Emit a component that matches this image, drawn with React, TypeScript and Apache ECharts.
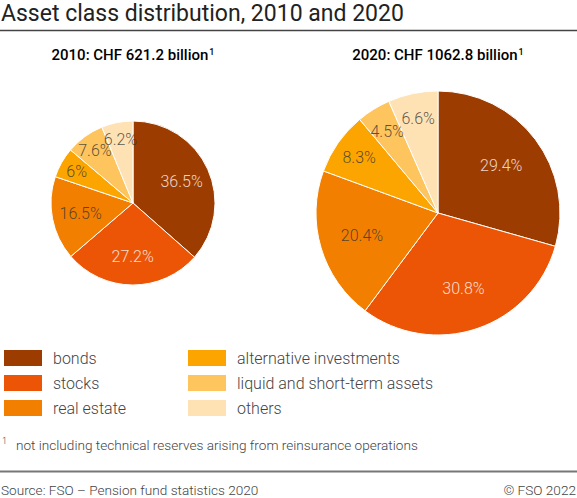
import { useEffect, useRef } from 'react';
import * as echarts from 'echarts';

const categories = [
  'bonds',
  'stocks',
  'real estate',
  'alternative investments',
  'liquid and short-term assets',
  'others',
];
const sliceColors = ['#9d3c00', '#ec5505', '#f27f00', '#fca500', '#fec45e', '#fee2b3'];
const labelColors = ['#ffffff', '#ffffff', '#333333', '#333333', '#333333', '#333333'];
const values2010 = [36.5, 27.2, 16.5, 6, 7.6, 6.2];
const values2020 = [29.4, 30.8, 20.4, 8.3, 4.5, 6.6];

const FONT = 'Roboto, "Noto Sans", sans-serif';

function mainPie(values: number[], center: number[], radius: number) {
  return {
    type: 'pie',
    center,
    radius: [0, radius],
    startAngle: 90,
    clockwise: true,
    silent: true,
    label: { show: false },
    labelLine: { show: false },
    itemStyle: { borderColor: '#ffffff', borderWidth: 1 },
    data: categories.map((name, i) => ({
      name,
      value: values[i],
      itemStyle: { color: sliceColors[i] },
    })),
  };
}

// percentage labels, placed on a polar grid laid over each pie
function labelSeries(values: number[], polarIndex: number) {
  const total = values.reduce((a, b) => a + b, 0);
  let acc = 0;
  const data = values.map((v, i) => {
    const mid = acc + v / 2;
    acc += v;
    const r = v >= 10 ? 0.65 : 0.79;
    return {
      value: [r, (mid / total) * 100, v],
      label: { color: labelColors[i] },
    };
  });
  return {
    type: 'scatter',
    coordinateSystem: 'polar',
    polarIndex,
    silent: true,
    symbolSize: 1,
    itemStyle: { color: 'rgba(0,0,0,0)' },
    label: {
      show: true,
      position: 'inside',
      formatter: (p: any) => `${p.value[2]}%`,
      fontFamily: FONT,
      fontWeight: 300,
      fontSize: 16,
      textBorderWidth: 0,
      textShadowBlur: 0,
    },
    data,
  };
}

function legendBlock(left: number, idx: number[]) {
  return {
    orient: 'vertical',
    left,
    top: 348,
    padding: 0,
    itemWidth: 40,
    itemHeight: 18,
    itemGap: 5,
    selectedMode: false,
    icon: 'rect',
    textStyle: {
      fontFamily: FONT,
      fontWeight: 300,
      fontSize: 16,
      color: '#444444',
      padding: [0, 0, 0, 5],
    },
    data: idx.map((i) => ({ name: categories[i], itemStyle: { color: sliceColors[i] } })),
  };
}

export default function App() {
  const chartRef = useRef<HTMLDivElement>(null);

  useEffect(() => {
    document.body.style.margin = '0';
    if (!chartRef.current) return;

    const chart = echarts.init(chartRef.current, undefined, { renderer: 'svg' });

    const c2010 = [133, 203];
    const c2020 = [438, 213];
    const hiddenAngle = { type: 'value', min: 0, max: 100, startAngle: 90, clockwise: true, show: false };
    const hiddenRadius = { type: 'value', min: 0, max: 1, show: false };

    const option = {
      animation: false,
      polar: [
        { center: c2010, radius: 82 },
        { center: c2020, radius: 122 },
      ],
      angleAxis: [
        { ...hiddenAngle, polarIndex: 0 },
        { ...hiddenAngle, polarIndex: 1 },
      ],
      radiusAxis: [
        { ...hiddenRadius, polarIndex: 0 },
        { ...hiddenRadius, polarIndex: 1 },
      ],
      legend: [legendBlock(2, [0, 1, 2]), legendBlock(186, [3, 4, 5])],
      series: [
        mainPie(values2010, c2010, 82),
        mainPie(values2020, c2020, 122),
        labelSeries(values2010, 0),
        labelSeries(values2020, 1),
      ],
      graphic: [
        {
          type: 'text',
          x: 1,
          y: 13,
          style: {
            text: 'Asset class distribution, 2010 and 2020',
            fontFamily: FONT,
            fontSize: 23,
            fill: '#222222',
            verticalAlign: 'middle',
          },
        },
        {
          type: 'line',
          shape: { x1: 0, y1: 30.5, x2: 577, y2: 30.5 },
          style: { stroke: '#444444', lineWidth: 1.5 },
        },
        {
          type: 'text',
          x: 133,
          y: 55,
          style: {
            text: '{m|2010: CHF 621.2 billion}{s|1}',
            align: 'center',
            verticalAlign: 'middle',
            rich: {
              m: { fontFamily: FONT, fontWeight: 500, fontSize: 15, color: '#222222' },
              s: { fontFamily: FONT, fontWeight: 500, fontSize: 9, color: '#222222', padding: [0, 0, 7, 1] },
            },
          },
        },
        {
          type: 'text',
          x: 438,
          y: 55,
          style: {
            text: '{m|2020: CHF 1062.8 billion}{s|1}',
            align: 'center',
            verticalAlign: 'middle',
            rich: {
              m: { fontFamily: FONT, fontWeight: 500, fontSize: 15, color: '#222222' },
              s: { fontFamily: FONT, fontWeight: 500, fontSize: 9, color: '#222222', padding: [0, 0, 7, 1] },
            },
          },
        },
        {
          type: 'text',
          x: 2,
          y: 441,
          style: {
            text: '1',
            fontFamily: FONT,
            fontWeight: 300,
            fontSize: 9,
            fill: '#444444',
            verticalAlign: 'middle',
          },
        },
        {
          type: 'text',
          x: 16,
          y: 445,
          style: {
            text: 'not including technical reserves arising from reinsurance operations',
            fontFamily: FONT,
            fontWeight: 300,
            fontSize: 13.6,
            fill: '#444444',
            verticalAlign: 'middle',
          },
        },
        {
          type: 'line',
          shape: { x1: 0, y1: 471.5, x2: 577, y2: 471.5 },
          style: { stroke: '#777777', lineWidth: 2 },
        },
        {
          type: 'text',
          x: 1,
          y: 490,
          style: {
            text: 'Source: FSO – Pension fund statistics 2020',
            fontFamily: FONT,
            fontWeight: 300,
            fontSize: 13.6,
            fill: '#444444',
            verticalAlign: 'middle',
          },
        },
        {
          type: 'text',
          x: 576,
          y: 490,
          style: {
            text: '© FSO 2022',
            fontFamily: FONT,
            fontWeight: 300,
            fontSize: 13.6,
            fill: '#444444',
            align: 'right',
            verticalAlign: 'middle',
          },
        },
      ],
    };

    chart.setOption(option as any);

    return () => {
      chart.dispose();
    };
  }, []);

  return <div ref={chartRef} style={{ width: '577px', height: '498px' }} />;
}
